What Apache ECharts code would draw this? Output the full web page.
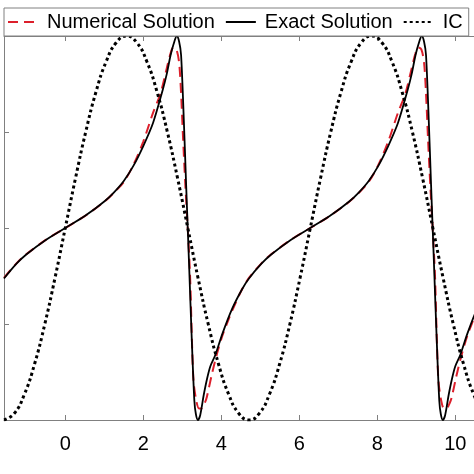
<!DOCTYPE html>
<html>
<head>
<meta charset="utf-8">
<script src="https://cdn.jsdelivr.net/npm/echarts@6/dist/echarts.min.js"></script>
<style>
  html, body { margin: 0; padding: 0; background: #fff; }
  #chart { width: 474px; height: 474px; }
</style>
</head>
<body>
<div id="chart"></div>
<script>
// x tick labels shown on the bottom axis
const xTicks = [0, 2, 4, 6, 8, 10]

// exact solution (black solid)
const exactX = [-1.571, -1.25, -1.0, -0.5, 0, 0.5, 1.0, 1.25, 1.5, 1.75, 2.0, 2.25, 2.5, 2.6, 2.7, 2.78, 2.86, 2.92, 2.97, 3.04, 3.10, 3.14,
  3.18, 3.24, 3.31, 3.35, 3.40, 3.46, 3.55, 3.63, 3.72, 3.85, 4.03, 4.28, 4.53, 4.71, 5.03, 5.28, 5.78, 6.28,
  6.78, 7.28, 7.53, 7.78, 8.03, 8.28, 8.53, 8.78, 8.88, 8.98, 9.06, 9.14, 9.20, 9.25, 9.32, 9.38, 9.42,
  9.46, 9.52, 9.59, 9.63, 9.68, 9.74, 9.83, 9.91, 10.00, 10.13, 10.31, 10.56, 10.81, 11.0]
const exactY = [-0.263, -0.186, -0.138, -0.062, 0, 0.062, 0.138, 0.186, 0.245, 0.325, 0.427, 0.547, 0.72, 0.80, 0.90, 0.96, 1.0, 0.97, 0.90, 0.56, 0.22, 0,
  -0.22, -0.56, -0.90, -0.97, -1.0, -0.975, -0.87, -0.79, -0.72, -0.66, -0.55, -0.42, -0.32, -0.263, -0.186, -0.138, -0.062, 0,
  0.062, 0.138, 0.186, 0.245, 0.325, 0.427, 0.547, 0.72, 0.80, 0.90, 0.96, 1.0, 0.97, 0.90, 0.56, 0.22, 0,
  -0.22, -0.56, -0.90, -0.97, -1.0, -0.975, -0.87, -0.79, -0.72, -0.66, -0.55, -0.42, -0.32, -0.263]

// numerical solution (red dashed)
const numX = [-1.571, -1.25, -1.0, -0.5, 0, 0.5, 1.0, 1.25, 1.5, 1.75, 2.0, 2.25, 2.44, 2.6, 2.7, 2.77, 2.85, 2.92, 2.97, 3.02, 3.08, 3.14,
  3.20, 3.25, 3.29, 3.36, 3.43, 3.49, 3.58, 3.63, 3.75, 3.87, 4.03, 4.18, 4.28, 4.53, 4.71, 5.03, 5.28, 5.78, 6.28,
  6.78, 7.28, 7.53, 7.78, 8.03, 8.28, 8.53, 8.72, 8.88, 8.98, 9.05, 9.13, 9.20, 9.25, 9.30, 9.36, 9.42,
  9.48, 9.53, 9.57, 9.64, 9.71, 9.77, 9.86, 9.91, 10.03, 10.15, 10.31, 10.46, 10.56, 10.81, 11.0]
const numY = [-0.26, -0.184, -0.137, -0.062, 0, 0.062, 0.137, 0.184, 0.24, 0.33, 0.45, 0.60, 0.70, 0.83, 0.91, 0.94, 0.93, 0.86, 0.70, 0.47, 0.22, 0,
  -0.25, -0.60, -0.80, -0.90, -0.94, -0.94, -0.91, -0.88, -0.77, -0.67, -0.56, -0.48, -0.43, -0.32, -0.26, -0.184, -0.137, -0.062, 0,
  0.062, 0.137, 0.184, 0.24, 0.33, 0.45, 0.60, 0.70, 0.83, 0.91, 0.94, 0.93, 0.86, 0.70, 0.47, 0.22, 0,
  -0.25, -0.60, -0.80, -0.90, -0.94, -0.94, -0.91, -0.88, -0.77, -0.67, -0.56, -0.48, -0.43, -0.32, -0.26]

// initial condition (black dotted)
const icX = [-1.571, -1.309, -1.047, -0.785, -0.524, -0.262, 0, 0.262, 0.524, 0.785, 1.047, 1.309, 1.571, 1.833, 2.094, 2.356, 2.618, 2.880,
  3.142, 3.403, 3.665, 3.927, 4.189, 4.451, 4.712, 4.974, 5.236, 5.498, 5.760, 6.021, 6.283, 6.545, 6.807, 7.069, 7.330, 7.592,
  7.854, 8.116, 8.378, 8.639, 8.901, 9.163, 9.425, 9.687, 9.948, 10.210, 10.472, 10.734, 10.996]
const icY = [-1, -0.966, -0.866, -0.707, -0.5, -0.259, 0, 0.259, 0.5, 0.707, 0.866, 0.966, 1, 0.966, 0.866, 0.707, 0.5, 0.259,
  0, -0.259, -0.5, -0.707, -0.866, -0.966, -1, -0.966, -0.866, -0.707, -0.5, -0.259, 0, 0.259, 0.5, 0.707, 0.866, 0.966,
  1, 0.966, 0.866, 0.707, 0.5, 0.259, 0, -0.259, -0.5, -0.707, -0.866, -0.966, -1]

const pairs = (xs, ys) => xs.map((x, i) => [x, ys[i]])

const font = 'Liberation Sans, Arial, Helvetica, sans-serif'
const boxColor = '#808080'
// the picture is cut on the right, so the axis ends at the window edge
const xMin = -1.5708
const xMax = 10.48

const mychart = echarts.init(document.getElementById('chart'))
mychart.setOption({
  animation: false,
  backgroundColor: '#ffffff',
  legend: {
    left: 4,
    top: 8,
    padding: [4, 6, 4, 3],
    itemGap: 10,
    itemWidth: 30,
    itemHeight: 14,
    backgroundColor: '#ffffff',
    borderColor: boxColor,
    borderWidth: 1,
    itemStyle: { opacity: 0 },
    textStyle: {
      fontFamily: font,
      fontSize: 20,
      color: '#000',
      padding: [0, 0, 0, 4],
    },
    data: ['Numerical Solution', 'Exact Solution', 'IC'],
  },
  grid: {
    left: 4,
    top: 36,
    right: 0,
    bottom: 54,
  },
  xAxis: [
    {
      type: 'value',
      min: xMin,
      max: xMax,
      axisLine: { onZero: false, lineStyle: { color: boxColor, width: 1 } },
      axisTick: { inside: true, length: 5, customValues: xTicks, lineStyle: { color: boxColor } },
      axisLabel: { customValues: xTicks, color: '#000', fontSize: 20, fontFamily: font, margin: 14 },
      splitLine: { show: false },
    },
    {
      type: 'value',
      position: 'top',
      min: xMin,
      max: xMax,
      axisLine: { onZero: false, lineStyle: { color: boxColor, width: 1 } },
      axisTick: { inside: true, length: 5, customValues: xTicks, lineStyle: { color: boxColor } },
      axisLabel: { show: false },
      splitLine: { show: false },
    },
  ],
  yAxis: {
    type: 'value',
    min: -1,
    max: 1,
    interval: 0.5,
    axisLine: { show: true, onZero: false, lineStyle: { color: boxColor, width: 1 } },
    axisTick: { show: true, inside: true, length: 5, lineStyle: { color: boxColor } },
    axisLabel: { show: false },
    splitLine: { show: false },
  },
  series: [
    {
      name: 'Numerical Solution',
      type: 'line',
      smooth: 0.3,
      showSymbol: false,
      symbol: 'none',
      lineStyle: { color: '#dc1f2b', width: 2, type: [10, 6] },
      itemStyle: { color: '#dc1f2b' },
      data: pairs(numX, numY),
    },
    {
      name: 'Exact Solution',
      type: 'line',
      smooth: 0.3,
      showSymbol: false,
      symbol: 'none',
      lineStyle: { color: '#000', width: 1.8 },
      itemStyle: { color: '#000' },
      data: pairs(exactX, exactY),
    },
    {
      name: 'IC',
      type: 'line',
      smooth: true,
      showSymbol: false,
      symbol: 'none',
      lineStyle: { color: '#000', width: 3, type: [3, 3] },
      itemStyle: { color: '#000' },
      data: pairs(icX, icY),
    },
  ],
})
</script>
</body>
</html>
